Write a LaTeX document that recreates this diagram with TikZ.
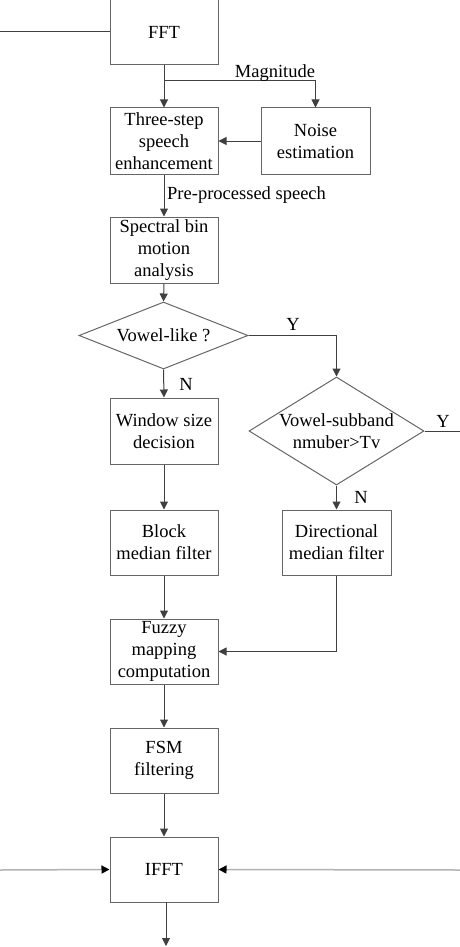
\documentclass[tikz,border=0pt]{standalone}
\usepackage{fontspec}
\setmainfont{Liberation Serif}
\usetikzlibrary{shapes.geometric,arrows.meta}
\begin{document}
\begin{tikzpicture}[x=1pt,y=-1pt,
  font=\fontsize{18.5}{22}\selectfont,
  box/.style={draw=black!60,line width=1pt,rectangle,inner sep=0pt,minimum width=108pt,minimum height=66pt,align=center},
  dia/.style={draw=black!60,line width=1pt,diamond,inner sep=0pt},
  conn/.style={draw=black!75,line width=1pt},
  arr/.style={conn,-{Triangle[length=8pt,width=8pt]}},
  garr/.style={draw=black!30,line width=1.5pt,-{Triangle[length=8pt,width=8pt,color=black]}},
  lab/.style={inner sep=0pt}]
\useasboundingbox (0,0) rectangle (460,947);
\clip (0,0) rectangle (460,947);
\node[box] (fft) at (164,32) {FFT};
\node[box] (three) at (164,141) {Three-step\\speech\\enhancement};
\node[box,minimum width=109pt] (noise) at (315.5,141) {Noise\\estimation};
\node[box] (spec) at (164,250) {Spectral bin\\motion\\analysis};
\node[dia,minimum width=169pt,minimum height=67pt] (d1) at (163.5,335.5) {};
\node[lab] at (d1.center) {Vowel-like ?};
\node[box] (win) at (164,431) {Window size\\decision};
\node[dia,minimum width=175pt,minimum height=108pt] (d2) at (336.5,431) {};
\node[lab,align=center] at (d2.center) {Vowel-subband\\nmuber>Tv};
\node[box,minimum height=65pt] (block) at (164,542.5) {Block\\median filter};
\node[box,minimum width=109pt,minimum height=65pt] (dir) at (336.5,542.5) {Directional\\median filter};
\node[box,minimum height=65pt] (fuzzy) at (164,651.5) {Fuzzy\\mapping\\computation};
\node[box,minimum height=65pt] (fsm) at (164,760.5) {FSM\\filtering};
\node[box,minimum height=65pt] (ifft) at (164,869.5) {IFFT};
\coordinate (fftin) at (0,32);
\coordinate (br) at (164,81);
\coordinate (d2out) at (460,431);
\coordinate (inl) at (0,870);
\coordinate (inr) at (460,870);
\coordinate (outtop) at (166,902);
\coordinate (outbot) at (166,946);
\draw[conn] (fftin) -- (fft.west);
\draw[arr] (fft.south) -- (three.north);
\draw[arr] (br) -| (noise.north);
\node[lab] at (275,73) {Magnitude};
\draw[arr] (noise.west) -- (three.east);
\draw[arr] (three.south) -- (spec.north);
\node[lab,anchor=west] at (167,195) {Pre-processed speech};
\draw[arr] (spec.south) -- (d1.north);
\draw[arr] (d1.east) -| (d2.north);
\node[lab] at (293,324) {Y};
\draw[arr] (d1.south) -- (win.north);
\node[lab] at (186,384) {N};
\draw[conn] (d2.east) -- (d2out);
\node[lab] at (443,421) {Y};
\draw[arr] (d2.south) -- (dir.north);
\node[lab] at (361,497) {N};
\draw[arr] (win.south) -- (block.north);
\draw[arr] (block.south) -- (fuzzy.north);
\draw[arr] (dir.south) |- (fuzzy.east);
\draw[arr] (fuzzy.south) -- (fsm.north);
\draw[arr] (fsm.south) -- (ifft.north);
\draw[garr] (inl) -- (ifft.west);
\draw[garr] (inr) -- (ifft.east);
\draw[arr] (outtop) -- (outbot);
\end{tikzpicture}
\end{document}
